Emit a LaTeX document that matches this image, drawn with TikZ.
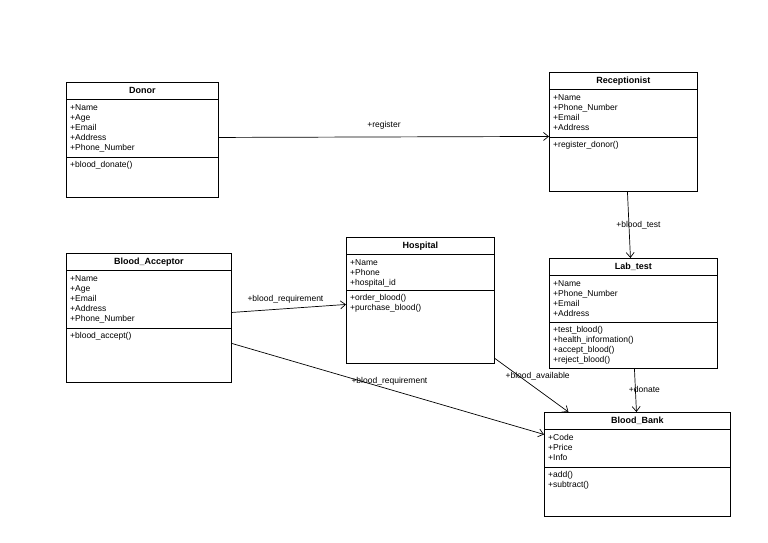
\documentclass[tikz,border=0pt]{standalone}
\usepackage{fontspec}
\setmainfont{Liberation Sans}
\usetikzlibrary{arrows.meta}

\begin{document}
\begin{tikzpicture}[x=1pt, y=-1pt,
	cls/.style={draw, line width=0.9pt, inner sep=0pt, anchor=north west},
	bar/.style={line width=0.9pt},
	ttl/.style={font=\fontsize{9}{10}\selectfont\bfseries, anchor=base, inner sep=0pt},
	attr/.style={font=\fontsize{8.5}{10}\selectfont, align=left, anchor=north west, inner sep=0pt},
	assoc/.style={draw, line width=0.7pt, -{Straight Barb[length=5pt, width=8pt]}},
	lbl/.style={font=\fontsize{8.5}{10}\selectfont, anchor=base, inner sep=0pt}]
	\fill[white] (0,0) rectangle (768,543);
	\useasboundingbox (0,0) rectangle (768,543);
	\def \hd{ 17 };
	\def \tt{ 11.5 };
	\def \at{ 22.5 };
	% Donor
	\node[cls, minimum width=152, minimum height=115] (donor) at (66,82) {};
	\draw[bar] ([shift={(0,\hd)}]donor.north west) -- ([shift={(0,\hd)}]donor.north east);
	\draw[bar] ([shift={(0,75)}]donor.north west) -- ([shift={(0,75)}]donor.north east);
	\node[ttl] at ([shift={(0,\tt)}]donor.north) {Donor};
	\node[attr] at ([shift={(4,\at)}]donor.north west) {+Name\\+Age\\+Email\\+Address\\+Phone\_Number};
	\node[attr] at ([shift={(4,79.5)}]donor.north west) {+blood\_donate()};
	% Receptionist
	\node[cls, minimum width=148, minimum height=119] (recep) at (549,72) {};
	\draw[bar] ([shift={(0,\hd)}]recep.north west) -- ([shift={(0,\hd)}]recep.north east);
	\draw[bar] ([shift={(0,65)}]recep.north west) -- ([shift={(0,65)}]recep.north east);
	\node[ttl] at ([shift={(0,\tt)}]recep.north) {Receptionist};
	\node[attr] at ([shift={(4,\at)}]recep.north west) {+Name\\+Phone\_Number\\+Email\\+Address};
	\node[attr] at ([shift={(4,69.5)}]recep.north west) {+register\_donor()};
	% Blood_Acceptor
	\node[cls, minimum width=165, minimum height=129] (acceptor) at (66,253) {};
	\draw[bar] ([shift={(0,\hd)}]acceptor.north west) -- ([shift={(0,\hd)}]acceptor.north east);
	\draw[bar] ([shift={(0,75)}]acceptor.north west) -- ([shift={(0,75)}]acceptor.north east);
	\node[ttl] at ([shift={(0,\tt)}]acceptor.north) {Blood\_Acceptor};
	\node[attr] at ([shift={(4,\at)}]acceptor.north west) {+Name\\+Age\\+Email\\+Address\\+Phone\_Number};
	\node[attr] at ([shift={(4,79.5)}]acceptor.north west) {+blood\_accept()};
	% Hospital
	\node[cls, minimum width=148, minimum height=126] (hospital) at (346,237) {};
	\draw[bar] ([shift={(0,\hd)}]hospital.north west) -- ([shift={(0,\hd)}]hospital.north east);
	\draw[bar] ([shift={(0,53)}]hospital.north west) -- ([shift={(0,53)}]hospital.north east);
	\node[ttl] at ([shift={(0,\tt)}]hospital.north) {Hospital};
	\node[attr] at ([shift={(4,\at)}]hospital.north west) {+Name\\+Phone\\+hospital\_id};
	\node[attr] at ([shift={(4,57.5)}]hospital.north west) {+order\_blood()\\+purchase\_blood()};
	% Lab_test
	\node[cls, minimum width=168, minimum height=110] (labtest) at (549,258) {};
	\draw[bar] ([shift={(0,\hd)}]labtest.north west) -- ([shift={(0,\hd)}]labtest.north east);
	\draw[bar] ([shift={(0,64)}]labtest.north west) -- ([shift={(0,64)}]labtest.north east);
	\node[ttl] at ([shift={(0,\tt)}]labtest.north) {Lab\_test};
	\node[attr] at ([shift={(4,\at)}]labtest.north west) {+Name\\+Phone\_Number\\+Email\\+Address};
	\node[attr] at ([shift={(4,68.5)}]labtest.north west) {+test\_blood()\\+health\_information()\\+accept\_blood()\\+reject\_blood()};
	% Blood_Bank
	\node[cls, minimum width=186, minimum height=104] (bank) at (544,412) {};
	\draw[bar] ([shift={(0,\hd)}]bank.north west) -- ([shift={(0,\hd)}]bank.north east);
	\draw[bar] ([shift={(0,55)}]bank.north west) -- ([shift={(0,55)}]bank.north east);
	\node[ttl] at ([shift={(0,\tt)}]bank.north) {Blood\_Bank};
	\node[attr] at ([shift={(4,\at)}]bank.north west) {+Code\\+Price\\+Info};
	\node[attr] at ([shift={(4,59.5)}]bank.north west) {+add()\\+subtract()};
	% associations
	\draw[assoc] ([shift={(0,-2.5)}]donor.east) -- node[lbl, shift={(0,-9.5)}] {+register} ([shift={(0,4.5)}]recep.west);
	\draw[assoc] ([shift={(4,0)}]recep.south) -- node[lbl, shift={(9.5,2.5)}] {+blood\_test} ([shift={(-3,0)}]labtest.north);
	\draw[assoc] ([shift={(0,-5.5)}]acceptor.east) -- node[lbl, shift={(-3.5,-7)}] {+blood\_requirement} ([shift={(0,4)}]hospital.west);
	\draw[assoc] ([shift={(0,25.5)}]acceptor.east) -- node[lbl, shift={(1.5,-5.5)}] {+blood\_requirement} ([shift={(0,-30)}]bank.west);
	\draw[assoc] ([shift={(0,58)}]hospital.east) -- node[lbl, shift={(6,-7)}] {+blood\_available} ([shift={(-69,0)}]bank.north);
	\draw[assoc] ([shift={(1,0)}]labtest.south) -- node[lbl, shift={(9,2)}] {+donate} ([shift={(-1,0)}]bank.north);
\end{tikzpicture}
\end{document}
